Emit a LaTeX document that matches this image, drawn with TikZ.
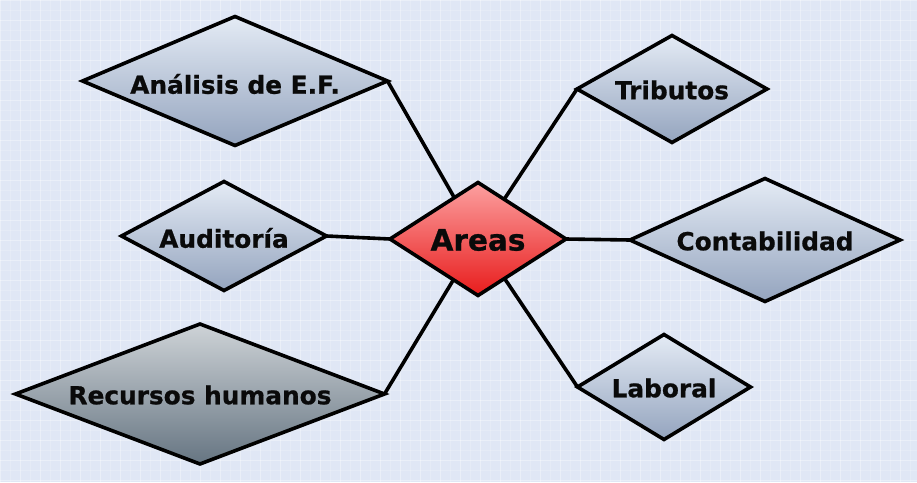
\documentclass[tikz,border=0pt]{standalone}
\usepackage{fontspec}
\setmainfont{DejaVu Sans}[BoldFeatures={FakeBold=0.8}]
\usetikzlibrary{shapes.geometric}
\definecolor{bgc}{RGB}{224,231,245}
\definecolor{gtop}{RGB}{228,235,245}
\definecolor{gbot}{RGB}{148,164,190}
\definecolor{rtop}{RGB}{206,211,215}
\definecolor{rbot}{RGB}{102,117,130}
\definecolor{atop}{RGB}{252,160,160}
\definecolor{abot}{RGB}{232,28,28}
\definecolor{txt}{RGB}{10,10,10}
\tikzset{
  dia/.style={diamond, draw=black, line width=3.6pt, inner sep=0pt, outer sep=0pt,
    top color=gtop, bottom color=gbot},
  lbl/.style={font=\bfseries\fontsize{24.8}{27}\selectfont, text=txt},
  conn/.style={draw=black, line width=3.6pt}
}
\begin{document}
\begin{tikzpicture}[x=1pt,y=-1pt]
\fill[bgc] (0,0) rectangle (917,482);
\begin{scope}
\clip (0,0) rectangle (917,482);
\foreach \i in {0,20,...,920} {\draw[white,opacity=0.35,line width=1pt] (\i,0) -- (\i,482);}
\foreach \i in {0,20,...,480} {\draw[white,opacity=0.35,line width=1pt] (0,\i) -- (917,\i);}
\foreach \i in {10,30,...,920} {\draw[white,opacity=0.18,line width=0.6pt] (\i,0) -- (\i,482);}
\foreach \i in {10,30,...,480} {\draw[white,opacity=0.18,line width=0.6pt] (0,\i) -- (917,\i);}
\end{scope}
\useasboundingbox (0,0) rectangle (917,482);

\node[dia, minimum width=305, minimum height=129] (an) at (235,81) {};
\node[lbl] at (235,84) {Análisis de E.F.};
\node[dia, minimum width=190, minimum height=107] (tr) at (672,89) {};
\node[lbl] at (672,90) {Tributos};
\node[dia, minimum width=205, minimum height=109] (au) at (224,236) {};
\node[lbl] at (224,238) {Auditoría};
\node[dia, minimum width=176, minimum height=113, top color=atop, bottom color=abot] (ar) at (478,239) {};
\node[lbl, font=\bfseries\fontsize{29.5}{32}\selectfont] at (478,240) {Areas};
\node[dia, minimum width=270, minimum height=123] (co) at (765,240) {};
\node[lbl] at (765,241) {Contabilidad};
\node[dia, minimum width=369, minimum height=140, top color=rtop, bottom color=rbot] (re) at (200,394) {};
\node[lbl] at (200,395) {Recursos humanos};
\node[dia, minimum width=173, minimum height=105] (la) at (664,387) {};
\node[lbl] at (664,388) {Laboral};

\draw[conn] (an.east) -- (ar);
\draw[conn] (tr.west) -- (ar);
\draw[conn] (au.east) -- (ar.west);
\draw[conn] (ar.east) -- (co.west);
\draw[conn] (re.east) -- (ar);
\draw[conn] (la.west) -- (ar);
\end{tikzpicture}
\end{document}
